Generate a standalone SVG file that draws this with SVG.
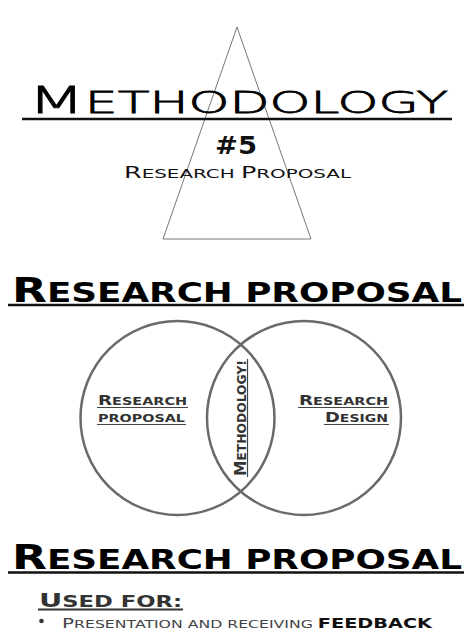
<svg xmlns="http://www.w3.org/2000/svg" width="474" height="632" viewBox="0 0 474 632">
<style>
.sans{font-family:"DejaVu Sans","Liberation Sans",sans-serif}
.thin{font-family:"DejaVu Sans","Liberation Sans",sans-serif;font-weight:200}
.b{font-weight:bold}
.circ{fill:none;stroke:#6a6a6a;stroke-width:2.5}
.ul{stroke:#111;fill:none}
.lbl{fill:#333;font-weight:bold;font-family:"DejaVu Sans","Liberation Sans",sans-serif}
.lul{stroke:#444;stroke-width:1.2}
</style>
<rect width="474" height="632" fill="#fff"/>
<g id="title">
<polygon points="237,27 163,239 311,239" fill="none" stroke="#777" stroke-width="1"/>
<text class="thin" x="28" y="113" textLength="420" lengthAdjust="spacingAndGlyphs" fill="#000" stroke="#000" stroke-width="0.8"><tspan font-size="38">M</tspan><tspan font-size="30">ETHODOLOGY</tspan></text>
<line class="ul" x1="22" y1="119" x2="452" y2="119" stroke-width="2.5"/>
<text class="sans b" x="215" y="154" font-size="25" textLength="42" lengthAdjust="spacingAndGlyphs" fill="#111">#5</text>
<text class="sans" x="124" y="178" textLength="227" lengthAdjust="spacingAndGlyphs" fill="#111"><tspan font-size="16">R</tspan><tspan font-size="12.5">ESEARCH </tspan><tspan font-size="16">P</tspan><tspan font-size="12.5">ROPOSAL</tspan></text>
</g>
<g id="heading1">
<text class="sans b" x="12" y="302" textLength="450" lengthAdjust="spacingAndGlyphs" fill="#000"><tspan font-size="33">R</tspan><tspan font-size="26">ESEARCH PROPOSAL</tspan></text>
<line class="ul" x1="8" y1="305" x2="464" y2="305" stroke-width="2.7"/>
</g>
<g id="venn-left">
<circle class="circ" cx="177.5" cy="418" r="97"/>
<text class="lbl" x="98" y="405" textLength="89" lengthAdjust="spacingAndGlyphs"><tspan font-size="14">R</tspan><tspan font-size="11">ESEARCH</tspan></text>
<line class="lul" x1="97" y1="407.5" x2="188" y2="407.5"/>
<text class="lbl" x="98" y="422" font-size="11" textLength="87" lengthAdjust="spacingAndGlyphs">PROPOSAL</text>
<line class="lul" x1="97" y1="424.5" x2="186" y2="424.5"/>
</g>
<g id="venn-right">
<circle class="circ" cx="304" cy="418" r="97"/>
<text class="lbl" x="299" y="405" textLength="89" lengthAdjust="spacingAndGlyphs"><tspan font-size="14">R</tspan><tspan font-size="11">ESEARCH</tspan></text>
<line class="lul" x1="298" y1="407.5" x2="389" y2="407.5"/>
<text class="lbl" x="325" y="422" textLength="63" lengthAdjust="spacingAndGlyphs"><tspan font-size="14">D</tspan><tspan font-size="11">ESIGN</tspan></text>
<line class="lul" x1="324" y1="424.5" x2="389" y2="424.5"/>
</g>
<g id="venn-overlap">
<text class="lbl" transform="translate(245.5,476) rotate(-90)" x="0" y="0" textLength="116" lengthAdjust="spacingAndGlyphs"><tspan font-size="15">M</tspan><tspan font-size="12">ETHODOLOGY!</tspan></text>
<line class="lul" x1="247.5" y1="359" x2="247.5" y2="477"/>
</g>
<g id="heading2">
<text class="sans b" x="12" y="569" textLength="450" lengthAdjust="spacingAndGlyphs" fill="#000"><tspan font-size="33">R</tspan><tspan font-size="26">ESEARCH PROPOSAL</tspan></text>
<line class="ul" x1="8" y1="572.5" x2="464" y2="572.5" stroke-width="2.7"/>
</g>
<g id="used-for">
<text class="lbl" x="39" y="607" textLength="143" lengthAdjust="spacingAndGlyphs"><tspan font-size="19">U</tspan><tspan font-size="15">SED FOR:</tspan></text>
<line x1="38" y1="609.5" x2="183" y2="609.5" stroke="#333" stroke-width="2"/>
<circle cx="41.5" cy="621" r="2.3" fill="#333"/>
<text class="sans" x="62" y="628" textLength="370" lengthAdjust="spacingAndGlyphs" fill="#444"><tspan font-size="14">P</tspan><tspan font-size="11">RESENTATION AND RECEIVING </tspan><tspan font-size="13.5" font-weight="bold" fill="#111">FEEDBACK</tspan></text>
</g>
</svg>
